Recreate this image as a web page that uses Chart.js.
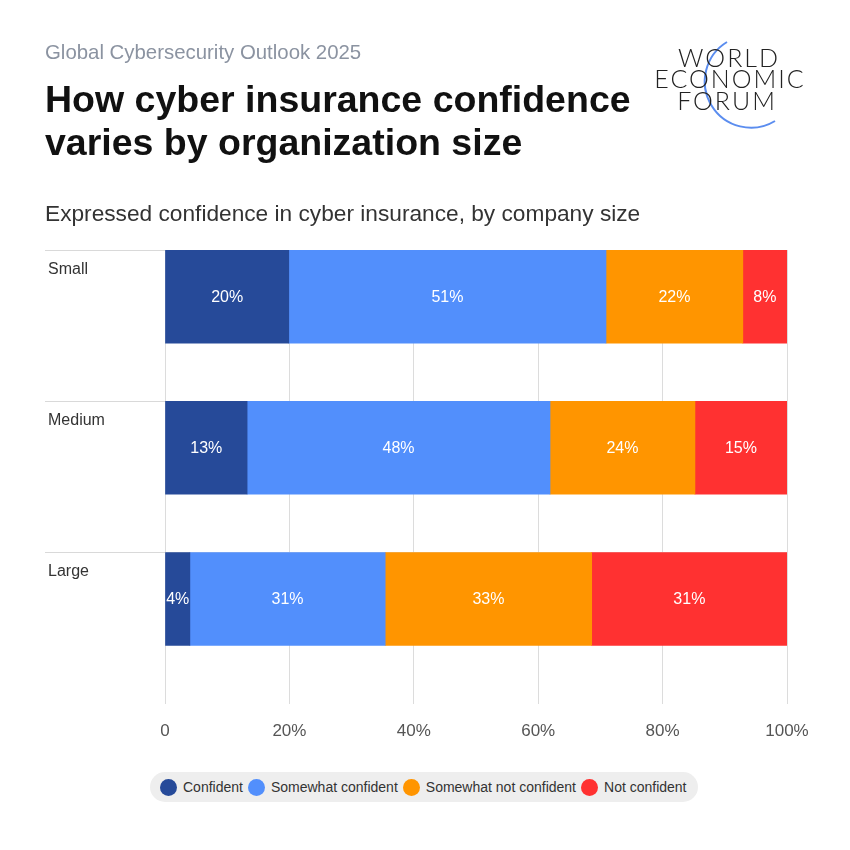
<!DOCTYPE html>
<html>
<head>
<meta charset="utf-8">
<script src="https://cdn.jsdelivr.net/npm/chart.js@4.4.1/dist/chart.umd.min.js"></script>
<style>
    body { margin: 0; background: #fff; font-family: "Liberation Sans", Arial, sans-serif; }
    #page { position: relative; width: 850px; height: 850px; overflow: hidden; }
    #chart-wrap { position: absolute; left: 0; top: 0; width: 850px; height: 850px; }
    .kicker { position: absolute; left: 45px; top: 40px; font-size: 20.4px; line-height: 24px; color: #8b93a1; }
    .title { position: absolute; left: 45px; top: 78px; font-size: 37.5px; font-weight: bold; color: #111; line-height: 43px; }
    .subtitle { position: absolute; left: 45px; top: 200px; font-size: 22.7px; line-height: 26px; color: #333; }
    .logo { position: absolute; left: 640px; top: 30px; width: 180px; height: 110px; }
    .legend { position: absolute; left: 150px; top: 772px; height: 30px; padding: 0 11px 0 10px;
              background: #eeeeee; border-radius: 15px; display: flex; align-items: center; }
    .legend .item { display: flex; align-items: center; font-size: 14px; color: #333; margin-right: 5px; }
    .legend .item:last-child { margin-right: 0; }
    .legend .dot { width: 17px; height: 17px; border-radius: 50%; margin-right: 6px; }
</style>
</head>
<body>
<div id="page">
    <div id="chart-wrap"><canvas id="mainChart"></canvas></div>
    <div class="kicker">Global Cybersecurity Outlook 2025</div>
    <div class="title">How cyber insurance confidence<br>varies by organization size</div>
    <div class="subtitle">Expressed confidence in cyber insurance, by company size</div>
    <svg class="logo" viewBox="0 0 180 110">
        <path d="M 87 12 A 46 46 0 1 0 135 91" fill="none" stroke="#5b8def" stroke-width="2"/>
        <g font-family="Lato, 'DejaVu Sans', sans-serif" font-weight="300" font-size="25" fill="#222" text-anchor="middle" letter-spacing="2">
            <text x="89" y="37">WORLD</text>
            <text x="90" y="58">ECONOMIC</text>
            <text x="87" y="80">FORUM</text>
        </g>
    </svg>
    <div class="legend" id="legend"></div>
</div>
<script>
// chart data
const sizes = ['Small', 'Medium', 'Large'];
const seriesNames = ['Confident', 'Somewhat confident', 'Somewhat not confident', 'Not confident'];
const seriesColors = ['#264a99', '#528ffc', '#ff9500', '#ff3131'];

// bar lengths (%)
const confident = [19.9, 13.2, 4.0];
const somewhatConfident = [51.0, 48.7, 31.4];
const somewhatNotConfident = [22.0, 23.3, 33.2];
const notConfident = [7.1, 14.8, 31.4];

// labels printed on the bars
const confidentLabels = ['20%', '13%', '4%'];
const somewhatConfidentLabels = ['51%', '48%', '31%'];
const somewhatNotConfidentLabels = ['22%', '24%', '33%'];
const notConfidentLabels = ['8%', '15%', '31%'];

const xTicks = [0, 20, 40, 60, 80, 100];

const seriesValues = [confident, somewhatConfident, somewhatNotConfident, notConfident];
const seriesLabels = [confidentLabels, somewhatConfidentLabels, somewhatNotConfidentLabels, notConfidentLabels];

// bars sit at the top of each band; this is the share of a band above the bar centre
const BAND_LEAD = 0.308;

const bandPlugin = {
    id: 'bands',
    beforeDatasetsDraw(chart) {
        const { ctx, chartArea, scales: { y } } = chart;
        ctx.save();
        ctx.strokeStyle = '#d9d9d9';
        ctx.lineWidth = 1;
        ctx.fillStyle = '#333';
        ctx.font = '16px "Liberation Sans", Arial, sans-serif';
        ctx.textBaseline = 'top';
        sizes.forEach((name, i) => {
            const top = Math.round(y.getPixelForValue(i - BAND_LEAD)) + 0.5;
            ctx.beginPath();
            ctx.moveTo(45, top);
            ctx.lineTo(chartArea.right, top);
            ctx.stroke();
            ctx.fillText(name, 48, top + 11);
        });
        ctx.restore();
    },
    afterDatasetsDraw(chart) {
        const { ctx } = chart;
        ctx.save();
        ctx.fillStyle = '#fff';
        ctx.font = '16px "Liberation Sans", Arial, sans-serif';
        ctx.textAlign = 'center';
        ctx.textBaseline = 'middle';
        chart.data.datasets.forEach((ds, di) => {
            chart.getDatasetMeta(di).data.forEach((bar, i) => {
                const cx = (bar.x + bar.base) / 2;
                ctx.fillText(seriesLabels[di][i], cx, bar.y + 1);
            });
        });
        ctx.restore();
    }
};

const ctx = document.getElementById('mainChart').getContext('2d');
const mainChart = new Chart(ctx, {
    type: 'bar',
    data: {
        datasets: seriesNames.map((name, di) => ({
            label: name,
            data: sizes.map((s, i) => ({ x: seriesValues[di][i], y: i })),
            backgroundColor: seriesColors[di],
            borderWidth: 0,
            barThickness: 93
        }))
    },
    options: {
        indexAxis: 'y',
        responsive: true,
        maintainAspectRatio: false,
        animation: false,
        layout: { padding: { left: 165, right: 63, top: 250, bottom: 90 } },
        plugins: {
            legend: { display: false },
            tooltip: { enabled: false }
        },
        scales: {
            x: {
                type: 'linear',
                stacked: true,
                min: 0,
                max: 100,
                afterBuildTicks: (scale) => { scale.ticks = xTicks.map(v => ({ value: v })); },
                border: { display: false },
                grid: { color: '#dcdcdc', drawTicks: false },
                ticks: {
                    padding: 18,
                    color: '#555',
                    font: { family: '"Liberation Sans", Arial, sans-serif', size: 17 },
                    callback: (v) => v === 0 ? '0' : v + '%'
                }
            },
            y: {
                type: 'linear',
                stacked: true,
                reverse: true,
                offset: false,
                min: -BAND_LEAD,
                max: sizes.length - BAND_LEAD,
                display: false
            }
        }
    },
    plugins: [bandPlugin]
});

// legend pill
const legendEl = document.getElementById('legend');
seriesNames.forEach((name, i) => {
    const item = document.createElement('div');
    item.className = 'item';
    item.innerHTML = '<span class="dot" style="background:' + seriesColors[i] + '"></span>' + name;
    legendEl.appendChild(item);
});
</script>
</body>
</html>
